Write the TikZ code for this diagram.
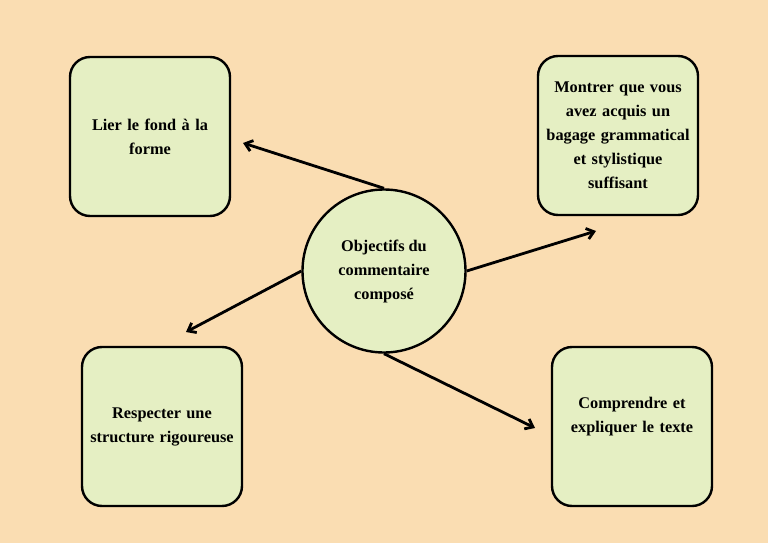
\documentclass[tikz,border=0pt]{standalone}
\usepackage{fontspec}
\setmainfont{Liberation Serif}
\usetikzlibrary{arrows.meta}
\definecolor{bg}{HTML}{FADDB2}
\definecolor{fillc}{HTML}{E5EFC3}
\begin{document}
\begin{tikzpicture}[x=1pt,y=-1pt,
  txt/.style={align=center,font=\bfseries\fontsize{16.3}{24}\selectfont,text width=150pt},
  box/.style={txt,draw=black,line width=2.4pt,fill=fillc,rounded corners=20pt,minimum width=160pt,minimum height=159pt},
  hub/.style={circle,draw=black,line width=2.4pt,fill=fillc,minimum size=163pt,align=center,font=\bfseries\fontsize{16.3}{24}\selectfont},
  arr/.style={-{Straight Barb[length=7pt,width=11pt]},line width=2.8pt}]
\fill[bg] (0,0) rectangle (768,543);
\useasboundingbox (0,0) rectangle (768,543);
\node[box] (tl) at (150,136.5) {Lier le fond à la\\forme};
\node[box] (tr) at (618,135.5) {Montrer que vous\\avez acquis un\\bagage grammatical\\et stylistique\\suffisant};
\node[box] (bl) at (162,426.5) {Respecter une\\structure rigoureuse};
\node[box] (br) at (632,426.5) {};
\node[txt] (brt) at (632,417) {Comprendre et\\expliquer le texte};
\node[hub] (c) at (384,271) {Objectifs du\\commentaire\\composé};
\coordinate (atl) at (243,143);
\coordinate (atr) at (596,231);
\coordinate (abl) at (186,332);
\coordinate (abr) at (535,428);
\draw[arr] (c.north) -- (atl);
\draw[arr] (c.east) -- (atr);
\draw[arr] (c.west) -- (abl);
\draw[arr] (c.south) -- (abr);
\end{tikzpicture}
\end{document}
